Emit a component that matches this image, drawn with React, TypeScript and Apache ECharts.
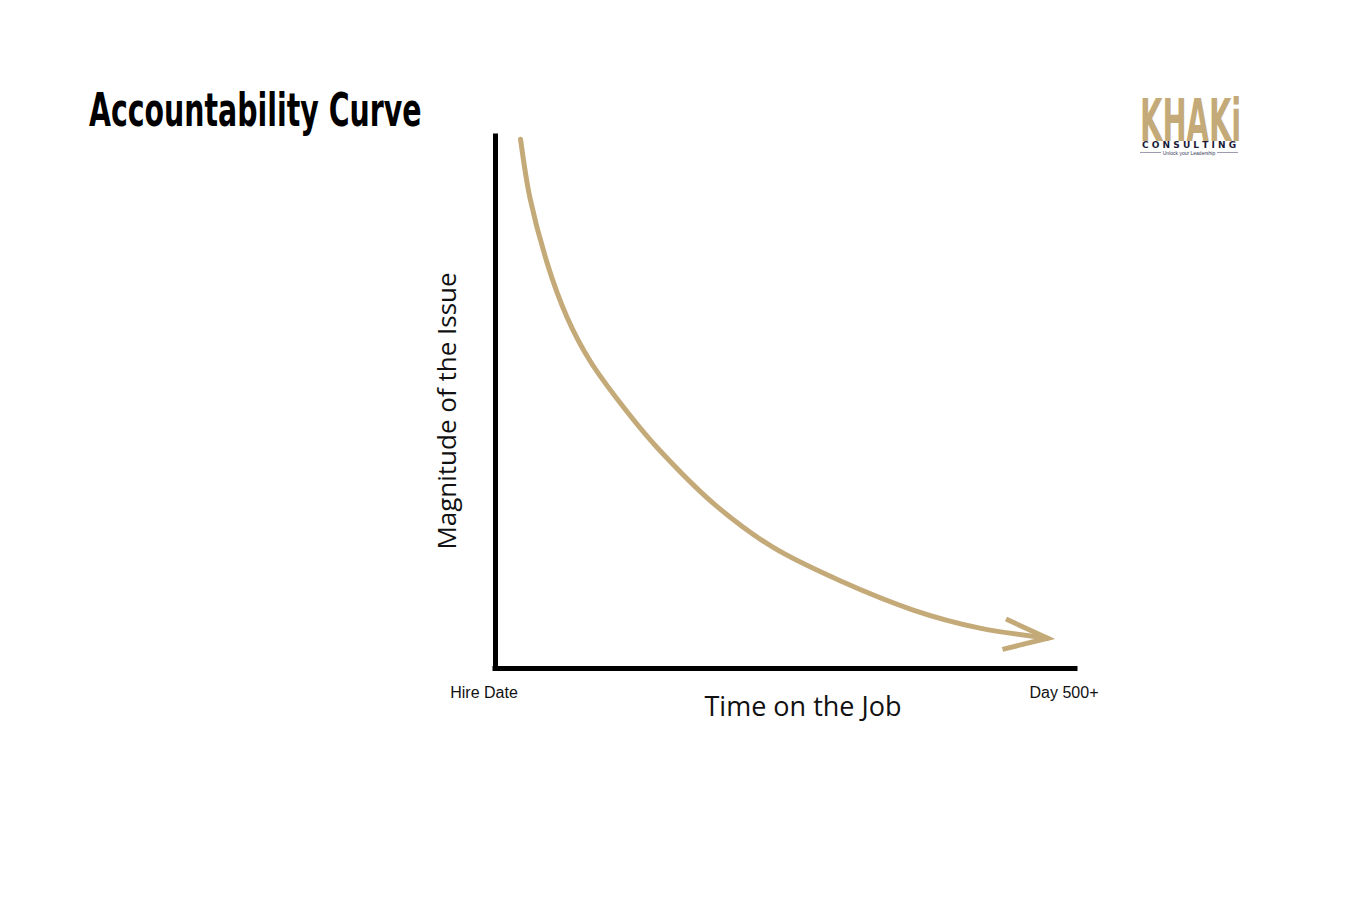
import React, { useEffect, useRef } from "react";
import * as echarts from "echarts";

// Curve (x: 0 = hire date, 100 = day 500+; y: 0..100 magnitude)
const curveX = [4.4, 6.0, 9.0, 12.4, 16.4, 21.6, 27.9, 37.6, 47.9, 59.5, 72.1, 83.6, 95.3];
const curveY = [99.4, 88.5, 76.1, 66.0, 57.7, 49.8, 41.5, 31.0, 22.7, 16.4, 10.9, 7.5, 5.6];
// Arrow head: upper barb, tip, lower barb
const arrowX = [88.1, 95.3, 87.5];
const arrowY = [9.2, 5.6, 3.5];
const xTickValues = [0, 100];
const xTickLabels = ["Hire Date", "Day 500+"];
const titleText = "Accountability Curve";
const xName = "Time on the Job";
const yName = "Magnitude of the Issue";
const logoText = "KHAKi";
const logoSub = "C O N S U L T I N G";
const logoTagline = "Unlock your Leadership";

const GOLD = "#C4AA78";

export default function App() {
  const ref = useRef<HTMLDivElement>(null);
  useEffect(() => {
    document.body.style.margin = "0";
    const chart = echarts.init(ref.current!, null, { renderer: "svg" });
    const curve = curveX.map((x, i) => [x, curveY[i]]);
    const arrow = arrowX.map((x, i) => [x, arrowY[i]]);
    chart.setOption({
      animation: false,
      backgroundColor: "#ffffff",
      grid: { left: 495, right: 275, top: 136, bottom: 232, containLabel: false },
      xAxis: {
        type: "value",
        min: 0,
        max: 100,
        interval: 100,
        name: xName,
        nameLocation: "middle",
        nameGap: 37,
        nameMoveOverlap: false,
        nameTextStyle: {
          fontFamily: "'Open Sans', 'Noto Sans', sans-serif",
          fontSize: 27,
          color: "#111111",
          verticalAlign: "middle",
          padding: [0, 0, 0, 36],
        },
        axisLine: { show: true, lineStyle: { color: "#000", width: 5, cap: "square" } },
        axisTick: { show: false },
        splitLine: { show: false },
        axisLabel: {
          show: true,
          margin: 16,
          fontFamily: "'Liberation Sans', Arial, sans-serif",
          fontSize: 16,
          color: "#111",
          padding: [0, 22, 0, 0],
          formatter: (v: number) => {
            const i = xTickValues.indexOf(v);
            return i >= 0 ? xTickLabels[i] : "";
          },
        },
      },
      yAxis: {
        type: "value",
        min: 0,
        max: 100,
        name: yName,
        nameLocation: "middle",
        nameRotate: 90,
        nameGap: 36,
        nameTextStyle: {
          fontFamily: "'Open Sans', 'Noto Sans', sans-serif",
          fontSize: 26,
          color: "#111111",
          padding: [0, 18, 0, 0],
        },
        axisLine: { show: true, lineStyle: { color: "#000", width: 5, cap: "square" } },
        axisTick: { show: false },
        splitLine: { show: false },
        axisLabel: { show: false },
      },
      series: [
        {
          type: "line",
          data: curve,
          smooth: 0.3,
          showSymbol: false,
          symbol: "none",
          lineStyle: { color: GOLD, width: 5, cap: "round", join: "round" },
          silent: true,
        },
        {
          type: "line",
          data: arrow,
          smooth: false,
          showSymbol: false,
          symbol: "none",
          lineStyle: { color: GOLD, width: 5, cap: "butt", join: "miter" },
          silent: true,
        },
      ],
      graphic: [
        {
          type: "text",
          x: 89,
          y: 110,
          scaleX: 0.604,
          style: {
            x: 0,
            y: 0,
            text: titleText,
            align: "left",
            verticalAlign: "middle",
            fontFamily: "'DejaVu Sans', sans-serif",
            fontWeight: "bold",
            fontSize: 47,
            lineHeight: 40,
            fill: "#000000",
          },
        },
        {
          type: "text",
          x: 1140,
          y: 121,
          scaleX: 0.49,
          style: {
            x: 0,
            y: 0,
            text: logoText,
            align: "left",
            verticalAlign: "middle",
            fontFamily: "'DejaVu Sans', sans-serif",
            fontWeight: "bold",
            fontSize: 59,
            lineHeight: 42,
            fill: GOLD,
          },
        },
        {
          type: "text",
          x: 1142,
          y: 145.5,
          scaleX: 1.13,
          style: {
            x: 0,
            y: 0,
            text: logoSub,
            align: "left",
            verticalAlign: "middle",
            fontFamily: "'DejaVu Sans', sans-serif",
            fontWeight: "bold",
            fontSize: 8,
            lineHeight: 7,
            fill: "#1b1b3a",
          },
        },
        {
          type: "text",
          x: 1189,
          y: 152.5,
          style: {
            x: 0,
            y: 0,
            text: logoTagline,
            align: "center",
            verticalAlign: "middle",
            fontFamily: "'Liberation Sans', sans-serif",
            fontSize: 5,
            lineHeight: 5,
            fill: "#3a3a5a",
          },
        },
        { type: "line", shape: { x1: 1140, y1: 152.5, x2: 1161, y2: 152.5 }, style: { stroke: "#5a5a7a", lineWidth: 0.6 } },
        { type: "line", shape: { x1: 1217, y1: 152.5, x2: 1238, y2: 152.5 }, style: { stroke: "#5a5a7a", lineWidth: 0.6 } },
      ],
    });
    return () => chart.dispose();
  }, []);
  return <div ref={ref} style={{ width: 1350, height: 900 }} />;
}
